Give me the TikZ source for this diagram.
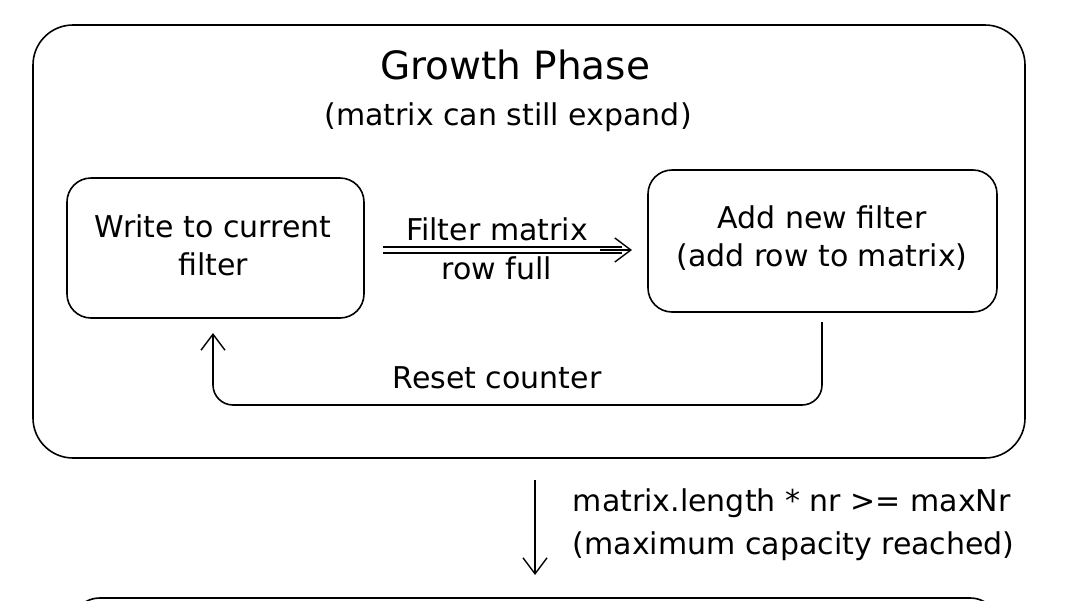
\documentclass[tikz,border=0pt]{standalone}
\usepackage{fontspec}
\setmainfont{DejaVu Sans}
\usetikzlibrary{arrows.meta}
\begin{document}
\begin{tikzpicture}[x=1pt,y=-1pt,line width=1.6pt,
  box/.style={draw,rounded corners=24pt},
  txt/.style={font=\fontsize{30}{36}\selectfont,inner sep=0pt},
  barb/.style={-{Straight Barb[length=16pt,width=24pt,line width=1.4pt]}}]
\useasboundingbox[fill=white] (0,0) rectangle (1070,600);
\draw[rounded corners=40pt] (33,25) rectangle (1025,458);
\node[txt,font=\fontsize{39}{44}\selectfont] (title) at (515,65) {Growth Phase};
\node[txt] (sub) at (508,117) {(matrix can still expand)};
\draw[box] (67,178) rectangle (364,318);
\node[txt,align=center] (w) at (213,245) {Write to current\\[2pt]filter};
\draw[box] (648,170) rectangle (997,312);
\node[txt,align=center] (a) at (822,238) {Add new filter\\[2pt](add row to matrix)};
\coordinate (ab) at (822,322);
\coordinate (e) at (632,250);
\draw[line width=1.2pt] (383,247) -- (622,247);
\draw[line width=1.2pt] (383,253) -- (622,253);
\draw[barb,line width=1.2pt] (600,250) -- (e);
\node[txt] (l1) at (497,229) {Filter matrix};
\node[txt] (l2) at (497,268) {row full};
\draw[barb,rounded corners=20pt] (ab) -- (822,405) -- (213,405) -- (213,333);
\node[txt] (r) at (497,378) {Reset counter};
\draw[barb] (535,480) -- (535,575);
\node[txt,anchor=west] (c1) at (572,503) {matrix.length * nr >= maxNr};
\node[txt,anchor=west] (c2) at (572,546) {(maximum capacity reached)};
\draw[rounded corners=30pt] (70,700) -- (70,598) -- (1000,598) -- (1000,700);
\end{tikzpicture}
\end{document}
